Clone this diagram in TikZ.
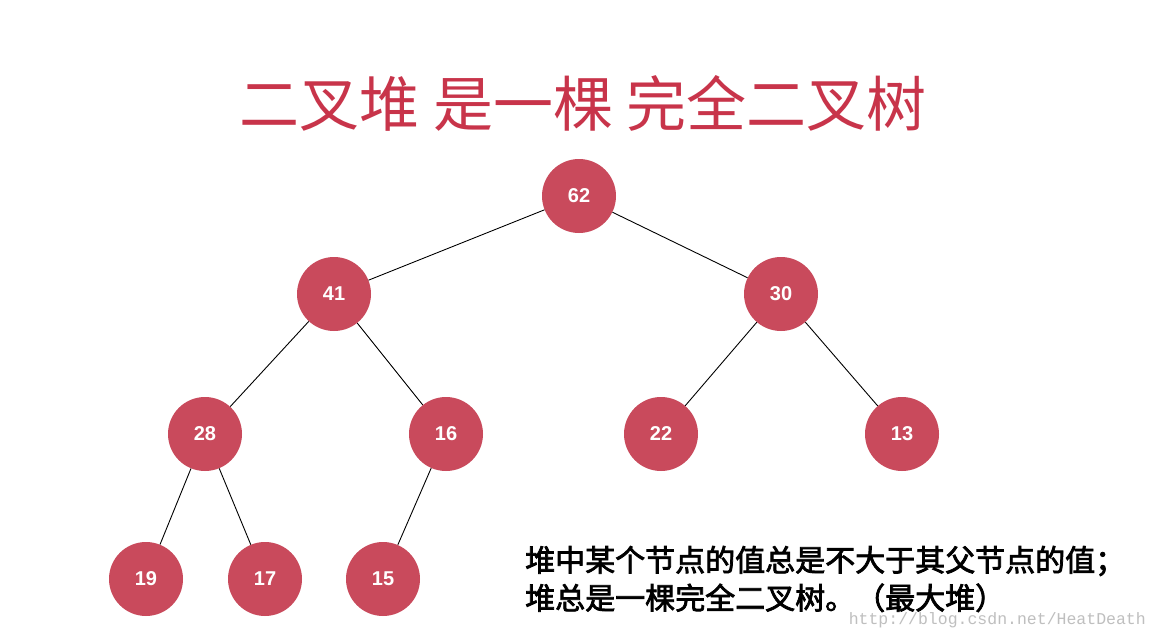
\documentclass[tikz,border=0pt]{standalone}
\usepackage{fontspec}
\setmainfont{Liberation Sans}
\newfontfamily\cjk{Noto Sans CJK SC}
\newfontfamily\cjkb[FakeBold=2.5]{Noto Sans CJK SC}
\newfontfamily\wm{Liberation Mono}
\definecolor{nodered}{HTML}{C94A5C}
\definecolor{titlered}{HTML}{C8344A}
\begin{document}
\begin{tikzpicture}[x=1pt,y=-1pt,
  hn/.style={circle,fill=nodered,minimum size=74pt,inner sep=0pt,text=white,font=\bfseries\fontsize{20}{24}\selectfont},
  ed/.style={draw=black,line width=0.9pt}]
\path[use as bounding box,fill=white] (0,0) rectangle (1156,637);
\node[text=titlered,font=\cjk\fontsize{60}{66}\selectfont] (title) at (583,103) {二叉堆 是一棵 完全二叉树};
\node[hn] (n62) at (579,196) {62};
\node[hn] (n41) at (334,294) {41};
\node[hn] (n30) at (781,294) {30};
\node[hn] (n28) at (205,434) {28};
\node[hn] (n16) at (446,434) {16};
\node[hn] (n22) at (661,434) {22};
\node[hn] (n13) at (902,434) {13};
\node[hn] (n19) at (146,579) {19};
\node[hn] (n17) at (265,579) {17};
\node[hn] (n15) at (383,579) {15};
\draw[ed] (n62)--(n41); \draw[ed] (n62)--(n30);
\draw[ed] (n41)--(n28); \draw[ed] (n41)--(n16);
\draw[ed] (n30)--(n22); \draw[ed] (n30)--(n13);
\draw[ed] (n28)--(n19); \draw[ed] (n28)--(n17);
\draw[ed] (n16)--(n15);
\node[anchor=west,align=left,inner sep=0pt,font=\cjkb\fontsize{30}{38}\selectfont] (note) at (525,579) {堆中某个节点的值总是不大于其父节点的值；\\堆总是一棵完全二叉树。（最大堆）};
\node[anchor=south east,inner sep=0pt,text=black!25,font=\wm\fontsize{16.5}{18}\selectfont] (wmk) at (1146,628) {http://blog.csdn.net/HeatDeath};
\end{tikzpicture}
\end{document}
